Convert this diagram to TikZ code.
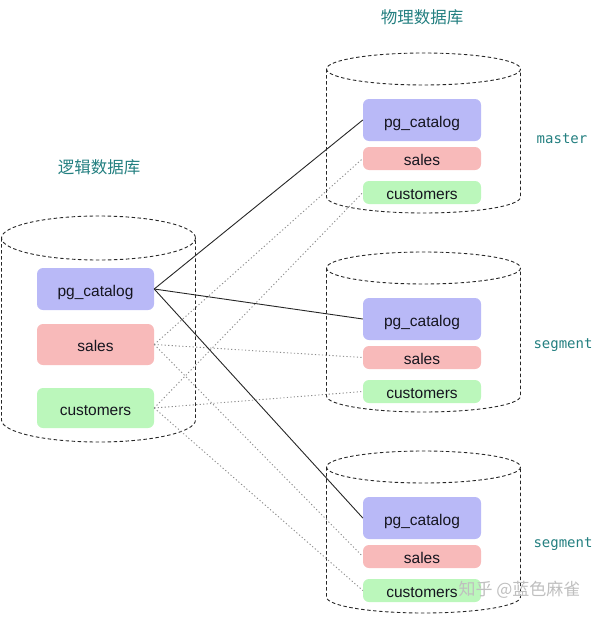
\documentclass[tikz,border=0pt]{standalone}
\usepackage{fontspec}
\setmainfont{Liberation Sans}
\newfontfamily\cjk{Noto Sans CJK SC}
\newfontfamily\monofnt{DejaVu Sans Mono}
\definecolor{teal2}{HTML}{237F80}
\definecolor{pgfill}{HTML}{B9B9F7}
\definecolor{salesfill}{HTML}{F8BABA}
\definecolor{custfill}{HTML}{BBF7BB}
\definecolor{boxtext}{HTML}{15151F}
\newcommand\mycyl[5]{% cx, topy, boty, rx, ry
  \draw[cylline] (#1,#2) ellipse [x radius=#4, y radius=#5];
  \draw[cylline] (#1-#4,#2) -- (#1-#4,#3) arc[start angle=180, end angle=0, x radius=#4, y radius=#5] -- (#1+#4,#2);
}
\begin{document}
\begin{tikzpicture}[x=1pt,y=-1pt,
  cylline/.style={draw=black!85, line width=0.9pt, dash pattern=on 3.5pt off 2.5pt},
  tbl/.style={rounded corners=6pt, inner sep=0pt, text=boxtext, font=\fontsize{15.5}{17}\selectfont, minimum width=117pt, text height=14pt, text depth=0pt},
  pgbox/.style={tbl, fill=pgfill},
  salesbox/.style={tbl, fill=salesfill},
  custbox/.style={tbl, fill=custfill},
  strong/.style={draw=black!85, line width=0.9pt},
  weak/.style={draw=black!45, line width=0.9pt, dash pattern=on 1.2pt off 2.3pt},
  cnlabel/.style={text=teal2, font=\cjk\fontsize{16.5}{18}\selectfont},
  rolelabel/.style={text=teal2, font=\monofnt\fontsize{14}{16}\selectfont}
]
\useasboundingbox (0,0) rectangle (600,618);

% cylinders
\mycyl{98.5}{238}{420}{97}{22}
\mycyl{423.5}{69}{197}{97}{16}
\mycyl{423.5}{268}{396}{97}{16}
\mycyl{423.5}{467}{597}{97}{16}

% labels
\node[cnlabel] (phys) at (422,17) {物理数据库};
\node[cnlabel] (logi) at (99,167) {逻辑数据库};
\node[rolelabel] (m) at (562,139) {master};
\node[rolelabel] (s1) at (563,345) {segment};
\node[rolelabel] (s2) at (563,544) {segment};

% left boxes
\node[pgbox, minimum height=42pt] (Lpg) at (95.5,289) {pg\_catalog};
\node[salesbox, minimum height=41pt] (Ls) at (95.5,344.5) {sales};
\node[custbox, minimum height=40pt] (Lc) at (95.5,408) {customers};

% right boxes
\foreach \i/\o in {1/0,2/199,3/398}{
  \node[pgbox, minimum height=42pt, minimum width=118pt] (P\i) at (422,120+\o) {pg\_catalog};
  \node[salesbox, minimum height=23pt, minimum width=118pt] (S\i) at (422,158.5+\o) {sales};
  \node[custbox, minimum height=23pt, minimum width=118pt] (C\i) at (422,192.5+\o) {customers};
}

% connectors
\foreach \i in {1,2,3}{
  \draw[strong] (Lpg.east) -- (P\i.west);
  \draw[weak] (Ls.east) -- (S\i.west);
  \draw[weak] (Lc.east) -- (C\i.west);
}

% watermark
\node[text=black!25, font=\cjk\fontsize{17}{19}\selectfont, anchor=west] (wm) at (455,590) {知乎 @蓝色麻雀};
\end{tikzpicture}
\end{document}
